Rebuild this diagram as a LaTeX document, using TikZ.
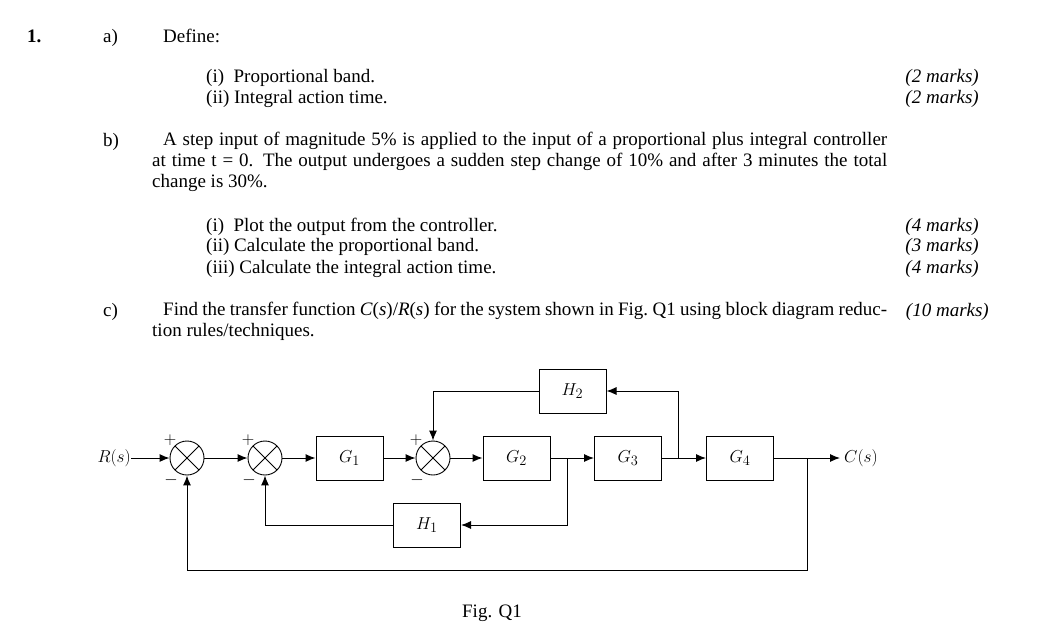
\documentclass[tikz,border=0pt]{standalone}
\usepackage{fontspec}
\setmainfont{Liberation Serif}
\usetikzlibrary{arrows.meta}
\begin{document}
\begin{tikzpicture}[x=1pt,y=-1pt,
  txt/.style={anchor=base west,inner sep=0pt,font=\fontsize{19}{21}\selectfont},
  mk/.style={anchor=base east,inner sep=0pt,font=\fontsize{19}{21}\selectfont\itshape},
  blk/.style={draw,line width=1pt,minimum width=67pt,minimum height=44pt,inner sep=0pt,font=\fontsize{19}{19}\selectfont},
  sum/.style={draw,circle,line width=0.9pt,minimum size=34pt,inner sep=0pt,path picture={\draw[line width=0.9pt] (path picture bounding box.south west)--(path picture bounding box.north east) (path picture bounding box.north west)--(path picture bounding box.south east);}},
  sig/.style={font=\fontsize{19}{19}\selectfont,inner sep=0pt},
  pm/.style={font=\fontsize{16}{16}\selectfont,inner sep=0pt},
  arr/.style={line width=1pt,-{Latex[length=10pt,width=8pt]}}]
\useasboundingbox (0,0) rectangle (1037,641);
\node[txt,font=\fontsize{19}{21}\selectfont\bfseries] (n1) at (27,42) {1.};
\node[txt] (a) at (103,42) {a)};
\node[txt] (def) at (163,42) {Define:};
\node[txt] (ai) at (206,82) {(i)\ \ Proportional band.};
\node[txt] (aii) at (206,103) {(ii)\ Integral action time.};
\node[mk] (m1) at (979,82) {(2 marks)};
\node[mk] (m2) at (979,103) {(2 marks)};
\node[txt] (b) at (103,146) {b)};
\node[anchor=north west,inner sep=0pt,text width=735pt,align=justify,font=\fontsize{19}{21}\selectfont] (bp) at (152,132)
 {\hspace*{11pt}A step input of magnitude 5\% is applied to the input of a proportional plus integral controller at time t = 0. The output undergoes a sudden step change of 10\% and after 3 minutes the total change is 30\%.};
\node[txt] (bi) at (206,231) {(i)\ \ Plot the output from the controller.};
\node[txt] (bii) at (206,251) {(ii)\ Calculate the proportional band.};
\node[txt] (biii) at (206,273) {(iii) Calculate the integral action time.};
\node[mk] (m3) at (979,231) {(4 marks)};
\node[mk] (m4) at (979,251) {(3 marks)};
\node[mk] (m5) at (979,273) {(4 marks)};
\node[txt] (c) at (103,316) {c)};
\node[anchor=north west,inner sep=0pt,text width=735pt,align=justify,font=\fontsize{19}{21}\selectfont] (cp) at (152,302)
 {\hspace*{11pt}Find the transfer function \textit{C}(\textit{s})/\textit{R}(\textit{s}) for the system shown in Fig.\ Q1 using block diagram reduction rules/techniques.};
\node[mk] (m6) at (989,316) {(10 marks)};
\node[txt,anchor=base] (fig) at (492,617) {Fig. Q1};
% diagram
\node[sig,anchor=east] (R) at (131,458) {$R(s)$};
\node[sum] (s1) at (187,458) {};
\node[sum] (s2) at (265,458) {};
\node[blk] (G1) at (349.5,458) {$G_1$};
\node[sum] (s3) at (433,458) {};
\node[blk] (G2) at (516.5,458) {$G_2$};
\node[blk] (G3) at (628,458) {$G_3$};
\node[blk] (G4) at (740,458) {$G_4$};
\node[blk] (H2) at (572.5,391) {$H_2$};
\node[blk] (H1) at (427,525) {$H_1$};
\node[sig,anchor=west] (C) at (844,458) {$C(s)$};
\coordinate (o) at (840,458);
\coordinate (b2) at (567,458);
\coordinate (b3) at (678,458);
\coordinate (b4) at (807,458);
\foreach \s in {s1,s2,s3}{
  \node[pm] at ([shift={(-17,-18)}]\s.center) {$+$};
  \node[pm] at ([shift={(-16,22)}]\s.center) {$-$};}
\draw[arr] (R) -- (s1);
\draw[arr] (s1) -- (s2);
\draw[arr] (s2) -- (G1);
\draw[arr] (G1) -- (s3);
\draw[arr] (s3) -- (G2);
\draw[arr] (G2) -- (G3);
\draw[arr] (G3) -- (G4);
\draw[arr] (G4) -- (o);
\draw[arr] (b3) |- (H2);
\draw[arr] (H2) -| (s3);
\draw[arr] (b2) |- (H1);
\draw[arr] (H1) -| (s2);
\draw[arr] (b4) |- (187,570) -- (s1);
\end{tikzpicture}
\end{document}
